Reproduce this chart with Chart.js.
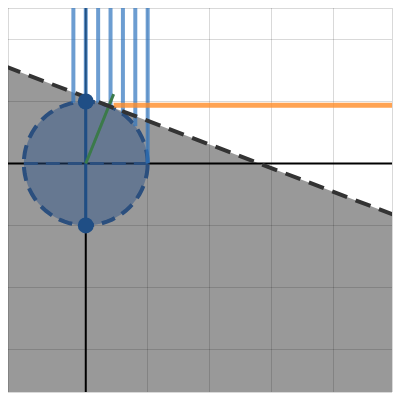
<!DOCTYPE html><html><head><script src="https://cdn.jsdelivr.net/npm/chart.js"></script>
<style>html,body{margin:0;padding:0;background:#fff}</style></head><body>
<div style="width:400px;height:400px"><canvas id="c"></canvas></div>
<script>
const xRange=[-1.256,4.946], yRange=[-3.69,2.51];
const tangentLine=[{x:-1.3,y:1.567},{x:5,y:-0.84}];
const verticalX=[-0.2,0,0.2,0.4,0.6,0.8,1.0];
const orangeLine=[{x:0.45,y:0.94},{x:5,y:0.94}];
const greenLine=[{x:0,y:0},{x:0.45,y:1.12}];
const markerPts=[{x:0,y:1},{x:0,y:-1}];
const circleR=1;
const circle=[];for(let i=0;i<=72;i++){const a=i/72*2*Math.PI;circle.push({x:circleR*Math.cos(a),y:circleR*Math.sin(a)});}
const base={showLine:true,pointRadius:0,fill:false};
const ds=[
 {...base,data:tangentLine,borderColor:'rgba(0,0,0,0)',backgroundColor:'rgba(0,0,0,0.4)',fill:'start',borderWidth:0},
 {...base,data:[{x:-2,y:0},{x:6,y:0}],borderColor:'#000',borderWidth:2},
 {...base,data:[{x:0,y:-4},{x:0,y:3}],borderColor:'#000',borderWidth:2},
 {...base,data:circle,borderColor:'#2b4f7e',borderWidth:4,borderDash:[14,8],backgroundColor:'rgba(40,80,135,0.45)',fill:'shape'},
 {...base,data:[{x:-1,y:0},{x:1,y:0}],borderColor:'#2b4f7e',borderWidth:3,borderDash:[14,8]},
 {...base,data:[{x:0,y:-1},{x:0,y:1}],borderColor:'#1f4e85',borderWidth:3},
 ...verticalX.map(x=>({...base,data:[{x,y:Math.sqrt(Math.max(0,1-x*x))},{x,y:3}],borderColor:'rgba(45,115,190,0.7)',borderWidth:4})),
 {...base,data:orangeLine,borderColor:'rgba(255,140,40,0.8)',borderWidth:5},
 {...base,data:greenLine,borderColor:'#3b7a4a',borderWidth:3},
 {...base,data:tangentLine,borderColor:'#333',borderWidth:4,borderDash:[16,9]},
 {data:markerPts,pointRadius:8,pointBackgroundColor:'#1f4e85',pointBorderWidth:0,showLine:false}
];
ds.forEach((d,i)=>d.order=ds.length-i);
new Chart(document.getElementById('c'),{type:'scatter',data:{datasets:ds},
options:{responsive:true,maintainAspectRatio:false,animation:false,layout:{padding:0},
plugins:{legend:{display:false},tooltip:{enabled:false}},
scales:{x:{type:'linear',min:xRange[0],max:xRange[1],afterFit:s=>{s.height=0;},ticks:{display:false,stepSize:1},grid:{drawTicks:false,color:'rgba(0,0,0,0.15)'},border:{display:false}},
y:{type:'linear',min:yRange[0],max:yRange[1],afterFit:s=>{s.width=0;},ticks:{display:false,stepSize:1},grid:{drawTicks:false,color:'rgba(0,0,0,0.15)'},border:{display:false}}}}});
</script></body></html>
